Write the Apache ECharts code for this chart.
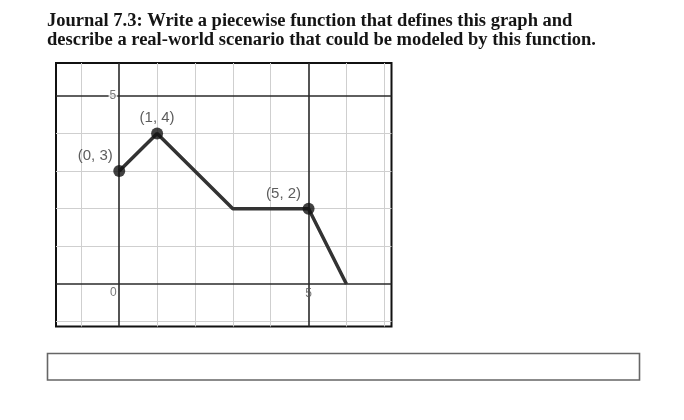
<!DOCTYPE html>
<html>
<head>
<meta charset="utf-8">
<script src="https://cdn.jsdelivr.net/npm/echarts@6/dist/echarts.min.js"></script>
<style>html,body{margin:0;padding:0;background:#fff;}#c{width:684px;height:420px;}</style>
</head>
<body>
<div id="c"></div>
<script>
// ---- data ----
var titleLines = ['Journal 7.3: Write a piecewise function that defines this graph and',
                  'describe a real-world scenario that could be modeled by this function.'];
var pathPoints = [[0, 3], [1, 4], [3, 2], [5, 2], [6, 0]];
var dotPoints = [[0, 3], [1, 4], [5, 2]];
var dotLabels = ['(0, 3)', '(1, 4)', '(5, 2)'];
var lightGridX = [-1, 1, 2, 3, 4, 6, 7];
var lightGridY = [-1, 1, 2, 3, 4];
var darkGridX = [0, 5];
var darkGridY = [0, 5];
var tickLabelsY = [[0, 5, '5']];
var tickLabelsX = [[0, 0, '0'], [5, 0, '5']];

// fit title font size to reference line width
var cv = document.createElement('canvas').getContext('2d');
cv.font = 'bold 100px "Liberation Serif"';
var w2 = cv.measureText(titleLines[1]).width;
var titleSize = Math.round(100 * 548 / w2 * 10) / 10;

var chart = echarts.init(document.getElementById('c'), null, {renderer: 'canvas'});

var labelOffsets = [[-24, -15], [0, -16], [-25, -15]];

var option = {
  animation: false,
  backgroundColor: '#fff',
  title: {
    text: titleLines.join('\n'),
    left: 47,
    top: 11,
    padding: 0,
    textStyle: {
      fontFamily: '"Liberation Serif", serif',
      fontWeight: 'bold',
      fontSize: titleSize,
      lineHeight: 19.5,
      color: '#151515'
    }
  },
  grid: {
    left: 56, top: 63, width: 335.5, height: 263.5,
    show: true, borderColor: '#111', borderWidth: 2, backgroundColor: 'transparent'
  },
  xAxis: {
    type: 'value', min: -1.67, max: 7.19,
    axisLine: {show: false}, axisTick: {show: false}, axisLabel: {show: false}, splitLine: {show: false}
  },
  yAxis: {
    type: 'value', min: -1.13, max: 5.87,
    axisLine: {show: false}, axisTick: {show: false}, axisLabel: {show: false}, splitLine: {show: false}
  },
  graphic: [{
    type: 'rect',
    shape: {x: 47.5, y: 353.5, width: 592, height: 26.5},
    style: {fill: '#fff', stroke: '#666', lineWidth: 1.6}
  }],
  series: [
    {
      type: 'line', data: [], silent: true, z: 1,
      markLine: {
        silent: true, symbol: 'none', animation: false, z: 1,
        label: {show: false},
        lineStyle: {color: '#cfcfcf', width: 1, type: 'solid'},
        data: lightGridX.map(function (v) { return {xAxis: v}; })
          .concat(lightGridY.map(function (v) { return {yAxis: v}; }))
      }
    },
    {
      type: 'line', data: [], silent: true, z: 2,
      markLine: {
        silent: true, symbol: 'none', animation: false, z: 2,
        label: {show: false},
        lineStyle: {color: '#2a2a2a', width: 1.6, type: 'solid'},
        data: darkGridX.map(function (v) { return {xAxis: v}; })
          .concat(darkGridY.map(function (v) { return {yAxis: v}; }))
      }
    },
    {
      type: 'line', data: pathPoints, symbol: 'none', silent: true, z: 5,
      lineStyle: {color: '#333', width: 3.5}
    },
    {
      type: 'scatter', silent: true, z: 6,
      data: dotPoints.map(function (p, i) {
        return {value: p, label: {formatter: dotLabels[i], offset: labelOffsets[i]}};
      }),
      symbolSize: 12,
      itemStyle: {color: '#111'},
      label: {
        show: true, position: 'inside',
        fontFamily: '"Liberation Sans", Arial, sans-serif', fontSize: 15, color: '#333'
      }
    },
    {
      type: 'scatter', silent: true, symbolSize: 0, z: 6,
      data: tickLabelsY.map(function (p) { return {value: [p[0], p[1]], label: {formatter: p[2]}}; }),
      label: {
        show: true, position: 'left', distance: 2,
        backgroundColor: '#fff', padding: [0, 1],
        fontFamily: '"Liberation Sans", Arial, sans-serif', fontSize: 12, color: '#555'
      }
    },
    {
      type: 'scatter', silent: true, symbolSize: 0, z: 6,
      data: tickLabelsX.map(function (p, i) {
        return {value: [p[0], p[1]], label: {formatter: p[2], offset: i === 0 ? [-6, 9] : [0, 10]}};
      }),
      label: {
        show: true, position: 'inside',
        fontFamily: '"Liberation Sans", Arial, sans-serif', fontSize: 12, color: '#555'
      }
    }
  ]
};
chart.setOption(option);
</script>
</body>
</html>
